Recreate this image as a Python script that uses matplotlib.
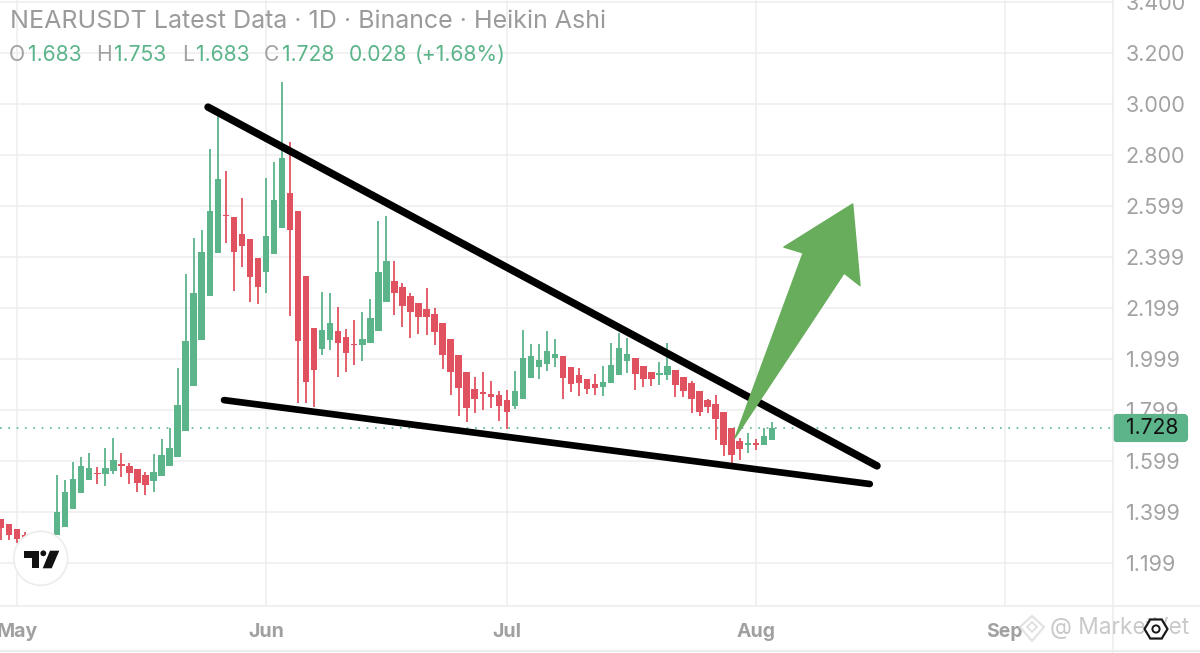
import numpy as np
import matplotlib
matplotlib.use('Agg')
import matplotlib.pyplot as plt
from matplotlib.patches import Polygon, Circle, FancyBboxPatch

plt.rcParams['font.family'] = ['Inter', 'DejaVu Sans']

# days counted from May 1, first candle is Apr 29
days = np.arange(-2, 95)
opens = [1.373, 1.353, 1.333, 1.310, 1.290, 1.271, 1.239, 1.310, 1.341, 1.412, 1.475, 1.526, 1.553,
         1.549, 1.561, 1.588, 1.581, 1.569, 1.545, 1.522, 1.541, 1.581, 1.616, 1.718, 1.894, 2.075,
         2.247, 2.416, 2.565, 2.557, 2.490, 2.471, 2.396, 2.341, 2.412, 2.514, 2.651, 2.581, 2.326,
         2.122, 2.039, 2.075, 2.110, 2.086, 2.059, 2.055, 2.063, 2.110, 2.224, 2.306, 2.282, 2.247,
         2.220, 2.196, 2.177, 2.141, 2.079, 2.016, 1.949, 1.883, 1.871, 1.863, 1.859, 1.839, 1.816,
         1.843, 1.926, 1.969, 1.980, 2.004, 2.012, 1.969, 1.937, 1.922, 1.902, 1.890, 1.906, 1.937,
         1.992, 2.004, 1.973, 1.949, 1.937, 1.937, 1.957, 1.930, 1.906, 1.875, 1.839, 1.824, 1.792,
         1.730, 1.679, 1.663, 1.671, 1.663, 1.683]
highs = [1.373, 1.353, 1.333, 1.322, 1.302, 1.282, 1.310, 1.545, 1.526, 1.596, 1.616, 1.632, 1.577,
         1.651, 1.690, 1.632, 1.592, 1.569, 1.557, 1.628, 1.686, 1.730, 1.965, 2.333, 2.475, 2.506,
         2.824, 2.977, 2.737, 2.557, 2.632, 2.471, 2.396, 2.710, 2.773, 3.086, 2.851, 2.581, 2.326,
         2.122, 2.263, 2.259, 2.204, 2.118, 2.153, 2.184, 2.235, 2.541, 2.561, 2.384, 2.298, 2.259,
         2.220, 2.278, 2.200, 2.141, 2.079, 2.016, 1.949, 1.930, 1.949, 1.914, 1.875, 1.879, 1.953,
         2.114, 2.059, 2.059, 2.110, 2.079, 2.012, 1.969, 1.965, 1.922, 1.941, 1.973, 2.063, 2.102,
         2.082, 2.004, 1.973, 1.949, 1.988, 2.063, 1.957, 1.930, 1.914, 1.875, 1.843, 1.859, 1.792,
         1.730, 1.690, 1.710, 1.686, 1.730, 1.753]
lows = [1.290, 1.290, 1.279, 1.259, 1.243, 1.228, 1.220, 1.310, 1.341, 1.412, 1.475, 1.526, 1.510,
        1.502, 1.549, 1.537, 1.510, 1.479, 1.467, 1.479, 1.541, 1.581, 1.616, 1.718, 1.894, 2.075,
        2.247, 2.416, 2.455, 2.267, 2.361, 2.224, 2.216, 2.259, 2.412, 2.514, 2.169, 1.828, 1.828,
        1.812, 2.016, 2.035, 1.930, 1.949, 1.977, 1.992, 2.063, 2.110, 2.224, 2.173, 2.126, 2.082,
        2.098, 2.094, 2.055, 1.961, 1.859, 1.777, 1.753, 1.788, 1.800, 1.808, 1.757, 1.726, 1.804,
        1.843, 1.926, 1.922, 1.953, 1.969, 1.843, 1.871, 1.855, 1.863, 1.859, 1.855, 1.906, 1.937,
        1.945, 1.879, 1.890, 1.894, 1.898, 1.918, 1.851, 1.851, 1.788, 1.777, 1.788, 1.682, 1.620,
        1.569, 1.604, 1.632, 1.643, 1.663, 1.683]
closes = [1.337, 1.310, 1.294, 1.290, 1.263, 1.243, 1.290, 1.400, 1.479, 1.530, 1.581, 1.573, 1.549,
          1.573, 1.604, 1.581, 1.553, 1.514, 1.506, 1.557, 1.624, 1.651, 1.820, 2.071, 2.259, 2.420,
          2.581, 2.706, 2.561, 2.420, 2.443, 2.322, 2.282, 2.483, 2.624, 2.788, 2.506, 2.071, 1.910,
          1.957, 2.114, 2.141, 2.063, 2.024, 2.055, 2.079, 2.161, 2.341, 2.384, 2.259, 2.208, 2.184,
          2.165, 2.165, 2.106, 2.016, 1.949, 1.886, 1.808, 1.843, 1.863, 1.851, 1.816, 1.792, 1.875,
          2.004, 2.012, 1.996, 2.031, 2.020, 1.926, 1.902, 1.906, 1.883, 1.886, 1.910, 1.977, 2.043,
          2.020, 1.941, 1.922, 1.922, 1.945, 1.973, 1.898, 1.875, 1.843, 1.792, 1.812, 1.765, 1.663,
          1.624, 1.647, 1.671, 1.663, 1.698, 1.728]

price_ticks = [3.4, 3.2, 3.0, 2.8, 2.6, 2.4, 2.2, 2.0, 1.8, 1.6, 1.4, 1.2]
price_labels = ['3.400', '3.200', '3.000', '2.800', '2.599', '2.399', '2.199', '1.999', '1.799', '1.599', '1.399', '1.199']
month_ticks = [0, 31, 61, 92, 123]
month_labels = ['May', 'Jun', 'Jul', 'Aug', 'Sep']
last_price = 1.728

upper_line = ([23.79, 107.1], [2.988, 1.581])
lower_line = ([25.78, 106.2], [1.839, 1.510])
arrow_pts = [(104.07, 2.608), (104.98, 2.288), (103.0, 2.337), (89.4, 1.690), (97.9, 2.416), (95.5, 2.439)]

green = '#5bb48a'
red = '#e0525f'
grey = '#a2a2a2'
gridc = '#ededed'

opens, highs, lows, closes = map(np.array, (opens, highs, lows, closes))
colors = [green if c >= o else red for o, c in zip(opens, closes)]

fig = plt.figure(figsize=(12, 6.53), dpi=100)
W, H = 1200, 653
ax = fig.add_axes([0, (H-606)/H, 1113/W, 606/H])
ax.set_xlim(-17/8.03, (1113-17)/8.03)
ax.set_ylim(3.408-606/255, 3.408)

ax.vlines(days, lows, highs, colors=colors, lw=1.3, zorder=3)
ax.bar(days, np.abs(closes-opens), bottom=np.minimum(opens, closes), width=0.8, color=colors, lw=0, zorder=4)
ax.axhline(last_price, color=green, lw=1.2, ls=(0, (1, 4)), zorder=2)

ax.plot(*upper_line, color='black', lw=5.4, solid_capstyle='round', zorder=5)
ax.plot(*lower_line, color='black', lw=4.8, solid_capstyle='round', zorder=5)
ax.add_patch(Polygon(arrow_pts, closed=True, fc='#67ad5b', ec='#67ad5b', lw=1, joinstyle='round', zorder=6))

ax.yaxis.tick_right()
ax.set_yticks(price_ticks, price_labels, color=grey, fontsize=15.5)
ax.set_xticks(month_ticks, month_labels, color='#a0a0a0', fontsize=14, fontweight='bold')
ax.tick_params(axis='y', length=0, pad=9)
ax.tick_params(axis='x', length=0, pad=12)
ax.grid(color=gridc, lw=1.1)
ax.set_axisbelow(True)
for s in ax.spines.values():
    s.set_visible(False)

# everything around the plot sits on a pixel overlay
ov = fig.add_axes([0, 0, 1, 1], facecolor='none')
ov.set_xlim(0, W)
ov.set_ylim(H, 0)
ov.axis('off')

ov.plot([1113, 1113], [0, H], color=gridc, lw=1.2)
ov.plot([0, W], [606, 606], color=gridc, lw=1.2)
ov.plot([0, W], [651, 651], color=gridc, lw=1.5)

ov.text(10, 22, 'NEARUSDT Latest Data · 1D · Binance · Heikin Ashi', color='#9b9b9b', fontsize=18, va='center')
ohlc = [(9, 'O', grey), (28, '1.683', green), (96, 'H', grey), (114, '1.753', green),
        (182, 'L', grey), (196, '1.683', green), (264, 'C', grey), (282, '1.728', green),
        (349, '0.028', green), (415, '(+1.68%)', green)]
for x, s, c in ohlc:
    ov.text(x, 55, s, color=c, fontsize=15.2, va='center')

# last price tag
ov.add_patch(FancyBboxPatch((1115, 416), 71, 24, boxstyle='round,pad=0,rounding_size=2', fc=green, ec=green, lw=3))
ov.text(1152, 428.5, '1.728', color='#111111', fontsize=15.2, ha='center', va='center')

# tradingview badge
ov.add_patch(Circle((40.7, 558.3), 27, fc='white', ec='#ececec', lw=1.2, zorder=5))
ov.add_patch(Polygon([(24, 550.7), (39.3, 550.7), (39.3, 568.3), (32, 568.3), (32, 558), (24, 558)], fc='#111111', lw=0, zorder=6))
ov.add_patch(Circle((43.3, 553.3), 2.9, fc='#111111', lw=0, zorder=6))
ov.add_patch(Polygon([(50, 550.7), (59.3, 550.7), (51.7, 568.3), (42.7, 568.3)], fc='#111111', lw=0, zorder=6))

# watermark
ov.add_patch(Polygon([(1032, 616), (1044, 627), (1032, 641), (1020, 627)], fc='white', ec='#dcdcdc', lw=1.6, alpha=0.8, zorder=6))
ov.add_patch(Polygon([(1032, 622), (1037, 627), (1032, 632), (1027, 627)], fc='none', ec='#dcdcdc', lw=1.2, zorder=6))
ov.text(1050, 628, '@ MarketVet', color='#c9c9c9', fontsize=16.3, va='center', zorder=6)
hex_t = np.deg2rad(np.arange(0, 360, 60))
ov.add_patch(Polygon(np.c_[1156+11.5*np.cos(hex_t), 629+11*np.sin(hex_t)], fc='white', ec='#1a1a1a', lw=1.6, zorder=7))
ov.add_patch(Circle((1156, 629), 3.6, fc='white', ec='#1a1a1a', lw=1.4, zorder=8))

fig.savefig('out.png', dpi=100)
